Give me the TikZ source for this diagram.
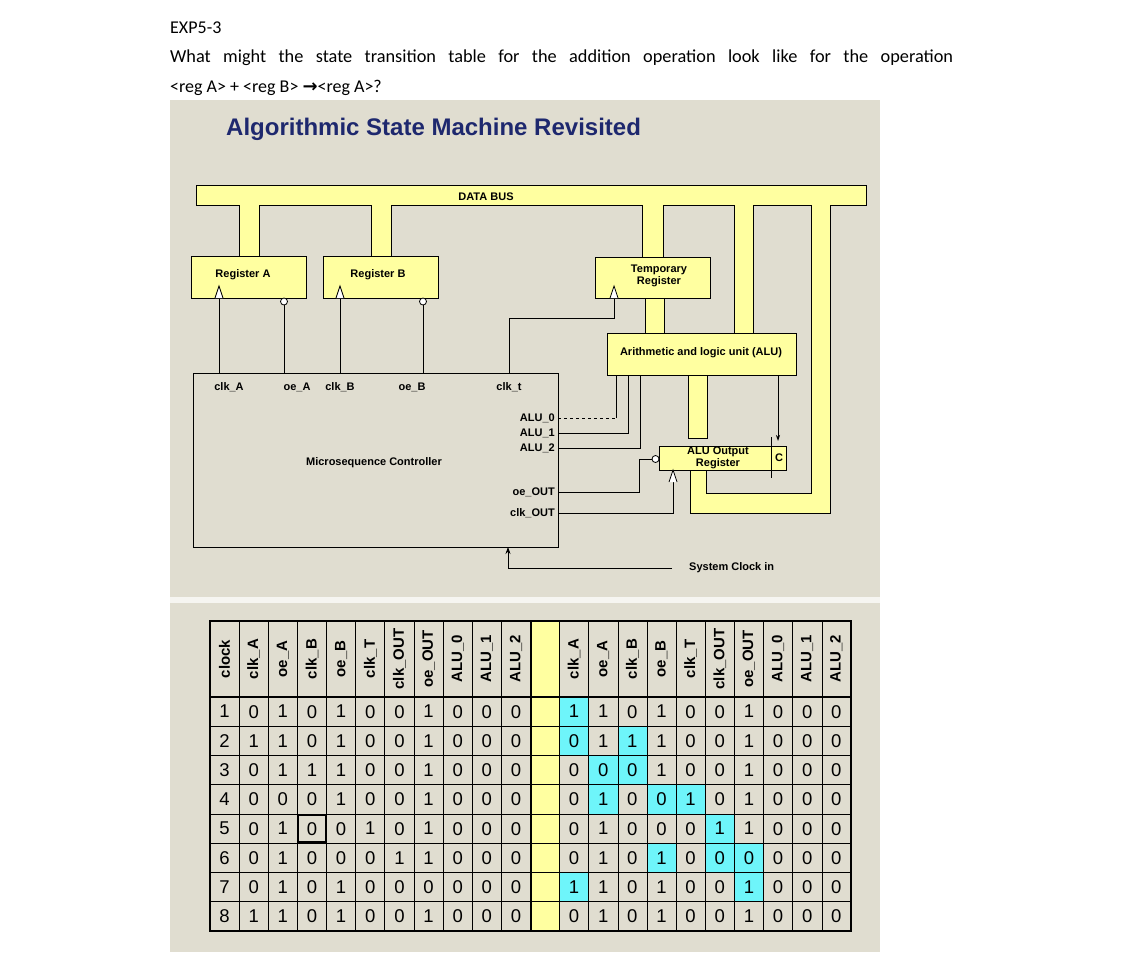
\documentclass[tikz,border=0pt]{standalone}
\usepackage{fontspec}
\usetikzlibrary{arrows.meta}
\setmainfont{Carlito}
\newfontfamily\arial{Liberation Sans}
\newfontfamily\djv{DejaVu Sans}
\definecolor{bg}{RGB}{224,221,208}
\definecolor{bus}{RGB}{255,255,160}
\definecolor{cy}{RGB}{110,245,250}
\definecolor{ttl}{RGB}{30,40,110}
\tikzset{
  lbl/.style={font=\arial\bfseries\fontsize{11}{12.5}\selectfont, inner sep=0pt},
  wire/.style={draw=black, line width=0.8pt},
  blk/.style={draw=black, line width=1pt, fill=bus},
  hdr/.style={font=\arial\bfseries\fontsize{15}{15}\selectfont, rotate=90, inner sep=0pt},
  num/.style={font=\arial\fontsize{18.5}{18.5}\selectfont, inner sep=0pt}
}
\begin{document}
\begin{tikzpicture}[x=1pt,y=-1pt]
\useasboundingbox (0,0) rectangle (1125,961);
\fill[white] (0,0) rectangle (1125,961);
% texts
\node[anchor=west,inner sep=0pt,font=\fontsize{18}{20}\selectfont] (t0) at (170,28) {EXP5-3};
\node[anchor=west,inner sep=0pt,font=\fontsize{18.3}{20}\selectfont] (t1) at (170,58) {\makebox[783pt][s]{What might the state transition table for the addition operation look like for the operation}};
\node[anchor=west,inner sep=0pt,font=\fontsize{18}{20}\selectfont] (t2) at (170,88) {<reg A> + <reg B> {\djv\bfseries →}<reg A>?};
% background
\fill[bg] (170,100) rectangle (880,952);
\fill[white!70!bg] (170,597) rectangle (880,603);
\node[anchor=west,inner sep=0pt,font=\arial\bfseries\fontsize{24}{26}\selectfont,text=ttl] (title) at (226,129) {Algorithmic State Machine Revisited};
% bus
\draw[blk] (196,185)--(866,185)--(866,205)--(830,205)--(830,513)--(690,513)--(690,470)--(706,470)--(706,493)--(811,493)--(811,205)--(753,205)--(753,333)--(734,333)--(734,205)--(663,205)--(663,257)--(642,257)--(642,205)--(391,205)--(391,256)--(371,256)--(371,205)--(259,205)--(259,256)--(239,256)--(239,205)--(196,205)--cycle;
\node[lbl] (db) at (486,197) {DATA BUS};
\draw[blk] (645,298) rectangle (664,333);
\draw[blk] (688,375) rectangle (707,438);
% blocks
\draw[blk] (191,256) rectangle (306,298);
\node[lbl] (ra) at (243,275) {Register A};
\draw[blk] (323,256) rectangle (438,298);
\node[lbl] (rb) at (378,275) {Register B};
\draw[blk] (595,257) rectangle (710,298);
\node[lbl,align=center] (rt) at (659,276) {Temporary\\Register};
\draw[blk] (607,333) rectangle (796,375);
\node[lbl] (alu) at (701,353) {Arithmetic and logic unit (ALU)};
\draw[blk] (659,446) rectangle (786,470);
\node[lbl,align=center] (ro) at (718,458) {ALU Output\\Register};
\draw[wire] (771,437)--(771,478);
\node[lbl] (cc) at (779,458) {C};
\draw[wire,-{Stealth[length=6pt,width=4pt]}] (778,375)--(778,441);
% controller
\draw[line width=1pt] (193,373) rectangle (558,547);
\node[lbl] (mc) at (374,463) {Microsequence Controller};
\foreach \x/\t in {229/clk\_A,297/oe\_A,340/clk\_B,412/oe\_B,509/clk\_t}
  \node[lbl] at (\x,387) {\t};
\node[lbl,anchor=east] (a0) at (555,418) {ALU\_0};
\node[lbl,anchor=east] (a1) at (555,433) {ALU\_1};
\node[lbl,anchor=east] (a2) at (555,448) {ALU\_2};
\node[lbl,anchor=east] (oo) at (555,492) {oe\_OUT};
\node[lbl,anchor=east] (co) at (555,513) {clk\_OUT};
\node[lbl,anchor=west] (sc) at (689,568) {System Clock in};
% control wires
\draw[wire] (219,373)--(219,298); \draw[wire,fill=white] (215,298)--(219,286)--(223,298);
\draw[wire] (340,373)--(340,298); \draw[wire,fill=white] (336,298)--(340,286)--(344,298);
\draw[wire] (284,373)--(284,305); \draw[wire,fill=white] (284,301.5) circle (3.5);
\draw[wire] (423,373)--(423,305); \draw[wire,fill=white] (423,301.5) circle (3.5);
\draw[wire] (509,373)--(509,318)--(614,318)--(614,298); \draw[wire,fill=white] (610,298)--(614,286)--(618,298);
\draw[wire,dashed] (558,418)--(616,418); \draw[wire] (616,418)--(616,375);
\draw[wire] (558,433)--(628,433)--(628,375);
\draw[wire] (558,448)--(640,448)--(640,375);
\draw[wire] (558,492)--(639,492)--(639,459)--(652,459); \draw[wire,fill=white] (655.5,459) circle (3.5);
\draw[wire] (558,513)--(673,513)--(673,470); \draw[wire,fill=white] (669,482)--(673,470)--(677,482);
\draw[wire,-{Stealth[length=7pt,width=5pt]}] (672,568)--(508,568)--(508,547);
% table
\fill[bus] (531,621) rectangle (559.5,931);
\foreach \r/\c in {1/0,2/0,2/2,3/1,3/2,4/1,4/3,4/4,5/5,6/3,6/5,6/6,7/0,7/6}
  \fill[cy] ({559.5+\c*29.2},{697+(\r-1)*29.25}) rectangle ++(29.2,29.25);
\foreach \i in {1,...,21} \draw[line width=0.7pt] ({210+\i*29.14},621)--({210+\i*29.14},931);
\foreach \j in {1,...,7} \draw[line width=0.7pt] (210,{697+\j*29.25})--(851,{697+\j*29.25});
\draw[line width=1.8pt] (210,621) rectangle (851,931);
\draw[line width=1.8pt] (210,697)--(851,697);
\draw[line width=1.2pt] (531,621)--(531,931) (559.5,621)--(559.5,931);
\foreach \t [count=\i from 0] in {clock,clk\_A,oe\_A,clk\_B,oe\_B,clk\_T,clk\_OUT,oe\_OUT,ALU\_0,ALU\_1,ALU\_2}
  \node[hdr] at ({210+(\i+0.5)*29.14},659) {\t};
\foreach \t [count=\i from 0] in {clk\_A,oe\_A,clk\_B,oe\_B,clk\_T,clk\_OUT,oe\_OUT,ALU\_0,ALU\_1,ALU\_2}
  \node[hdr] at ({559.5+(\i+0.5)*29.14},659) {\t};
\foreach \row [count=\r from 0] in {
 {1,0,1,0,1,0,0,1,0,0,0,1,1,0,1,0,0,1,0,0,0},
 {2,1,1,0,1,0,0,1,0,0,0,0,1,1,1,0,0,1,0,0,0},
 {3,0,1,1,1,0,0,1,0,0,0,0,0,0,1,0,0,1,0,0,0},
 {4,0,0,0,1,0,0,1,0,0,0,0,1,0,0,1,0,1,0,0,0},
 {5,0,1,0,0,1,0,1,0,0,0,0,1,0,0,0,1,1,0,0,0},
 {6,0,1,0,0,0,1,1,0,0,0,0,1,0,1,0,0,0,0,0,0},
 {7,0,1,0,1,0,0,0,0,0,0,1,1,0,1,0,0,1,0,0,0},
 {8,1,1,0,1,0,0,1,0,0,0,0,1,0,1,0,0,1,0,0,0}}{
  \foreach \v [count=\c from 0] in \row {
    \pgfmathsetmacro{\xx}{\c<11 ? 210+(\c+0.5)*29.14 : 559.5+(\c-10.5)*29.14}
    \node[num] at (\xx,{697+(\r+0.5)*29.25}) {\v};
  }
}
\draw[line width=1.5pt] ({210+3*29.14+1},{697+4*29.25+1}) rectangle ++(27,27);
\end{tikzpicture}
\end{document}
